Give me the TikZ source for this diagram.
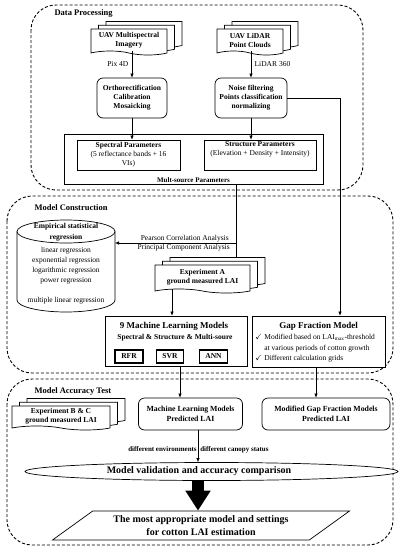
\documentclass[tikz,border=0pt]{standalone}
\usepackage{amsmath}
\usepackage{amssymb}
\usepackage{fontspec}
\setmainfont{Liberation Serif}
\usepackage{tikz}
\usetikzlibrary{arrows.meta}
\usetikzlibrary{shapes.symbols}
\usetikzlibrary{shapes.geometric}
\usetikzlibrary{shadows}

\tikzset{
  box/.style={draw, fill=white, line width=0.7pt, align=center, inner sep=1pt, font=\fontsize{7.5}{9}\selectfont\bfseries},
  rbox/.style={box, rounded corners=6pt},
  stack/.style={box, tape, tape bend top=none, tape bend bottom=out and in, tape bend height=4pt,
    copy shadow={shadow xshift=15pt, shadow yshift=7.5pt, line width=0.7pt},
    copy shadow={shadow xshift=7.5pt, shadow yshift=3.75pt, line width=0.7pt}},
  group/.style={draw, line width=0.9pt, rounded corners=25pt, dash pattern=on 3pt off 2pt},
  title/.style={anchor=west, font=\fontsize{8.5}{10}\selectfont\bfseries},
  lbl/.style={font=\fontsize{7.5}{9}\selectfont},
  arr/.style={-{Latex[length=4pt,width=3.5pt]}, line width=0.6pt}
}

\begin{document}
\begin{tikzpicture}[x=1pt,y=-1pt]
\useasboundingbox (0,0) rectangle (401,550);

% Groups
\draw[group] (31,5) rectangle (363,190);
\draw[group] (7,196) rectangle (393,373);
\draw[group] (7,379) rectangle (393,545);
\node[title] at (51,13) {Data Processing};
\node[title] at (31,208) {Model Construction};
\node[title] at (31,391) {Model Accuracy Test};

% column helpers
\coordinate (c1) at (172,0);
\coordinate (c2) at (180,0);
\coordinate (c3) at (316,0);
\coordinate (c4) at (198,0);
\coordinate (c5) at (340,0);
\coordinate (c6) at (236,0);

% Data processing
\node[stack, minimum width=76, minimum height=26] (ms) at (129,40) {UAV Multispectral\\Imagery};
\node[stack, minimum width=66, minimum height=26] (lidar) at (250,40) {UAV LiDAR\\Point Clouds};
\node[rbox, minimum width=70, minimum height=40] (ortho) at (132,98) {Orthorectification\\Calibration\\Mosaicking};
\node[rbox, minimum width=72, minimum height=40] (noise) at (251,98) {Noise filtering\\Points classification\\normalizing};

\node[box, minimum width=259, minimum height=50] (mult) at (193.5,159) {};
\node[box, minimum width=103, minimum height=30] (spec) at (128.5,155) {};
\node[box, minimum width=112, minimum height=30] (struct) at (260,155) {};
\node[lbl, align=center, anchor=north, inner sep=2pt] (spectxt) at (spec.north) {\textbf{Spectral Parameters}\\(5 reflectance bands + 16\\VIs)};
\node[lbl, align=center, anchor=north, inner sep=2pt] (structtxt) at (struct.north) {\textbf{Structure Parameters}\\(Elevation + Density + Intensity)};
\node[font=\fontsize{7}{8}\selectfont\bfseries, anchor=south, inner sep=2pt] (multtxt) at (mult.south) {Mult-source Parameters};

% Model construction
%Shape: Cylinder
\draw[fill=white, line width=0.7pt] (17,231.5) -- (17,300) arc[start angle=180, end angle=0, x radius=49, y radius=12] -- (115,231.5);
\draw[line width=0.7pt] (66,231.5) ellipse[x radius=49, y radius=11.5];
\coordinate (cyl) at (115,243);
\node[lbl, font=\fontsize{7.5}{11}\selectfont\bfseries, align=center] (emp) at (66,232) {Empirical statistical\\regression};
\node[lbl, font=\fontsize{7.5}{10}\selectfont, align=center, anchor=north, inner sep=0pt] (regs) at (66,247) {linear regression\\exponential regression\\logarithmic regression\\power regression\\[10.5pt]multiple linear regression};

\node[stack, minimum width=95, minimum height=28] (expA) at (202.5,277) {Experiment A\\ground measured LAI};
\coordinate (expAtop) at ([yshift=7.5pt]expA.north);

\node[box, minimum width=142, minimum height=50] (ml) at (176,341) {};
\node[font=\fontsize{9}{10}\selectfont\bfseries] (mltitle) at (174,326) {9 Machine Learning Models};
\node[font=\fontsize{7.5}{9}\selectfont\bfseries] (mlsub) at (175,338) {Spectral \& Structure \& Multi-soure};
\node[box, line width=1.1pt, minimum width=28, minimum height=13] (rfr) at (129,356.5) {RFR};
\node[box, line width=1.1pt, minimum width=27, minimum height=13] (svr) at (170,356.5) {SVR};
\node[box, line width=1.1pt, minimum width=28, minimum height=13] (ann) at (213.5,356.5) {ANN};

\node[box, minimum width=133, minimum height=51] (gap) at (318.5,341.5) {};
\node[font=\fontsize{9}{10}\selectfont\bfseries] (gaptitle) at (318.5,326) {Gap Fraction Model};
\node[lbl, font=\fontsize{7.5}{10.5}\selectfont, anchor=north west, inner sep=0pt] (gaplist) at (255,332) {%
  \begin{tabular}{@{}l@{\hspace{2pt}}l@{}}
  $\checkmark$ & Modified based on LAI\textsubscript{max}-threshold\\
   & at various periods of cotton growth\\
  $\checkmark$ & Different calculation grids
  \end{tabular}};

% Model accuracy test
\node[stack, minimum width=98, minimum height=24] (expBC) at (61,416) {Experiment B \& C\\ground measured LAI};
\node[rbox, minimum width=104, minimum height=32, font=\fontsize{7.8}{10}\selectfont\bfseries] (mlpred) at (190.5,414) {Machine Learning Models\\Predicted LAI};
\node[rbox, minimum width=128, minimum height=32, font=\fontsize{7.8}{10}\selectfont\bfseries] (modgap) at (326,414) {Modified Gap Fraction Models\\Predicted LAI};
\node[draw, ellipse, fill=white, line width=0.7pt, minimum width=373, minimum height=18, inner sep=0pt] (valid) at (211.5,471.5) {};
\node[font=\fontsize{10}{12}\selectfont\bfseries] (validtxt) at (199,471.5) {Model validation and accuracy comparison};
\node[draw, trapezium, trapezium left angle=31, trapezium right angle=149, trapezium stretches=true, line width=0.7pt, minimum width=298, minimum height=29, inner sep=0pt, align=center, font=\fontsize{10}{12.5}\selectfont\bfseries] (best) at (201,525.5) {The most appropriate model and settings\\for cotton LAI estimation};

% Connectors
\draw[arr] (ms.south -| ortho.north) -- node[lbl, left] {Pix 4D} (ortho.north);
\draw[arr] (lidar.south -| noise.north) -- node[lbl, right] {LiDAR 360} (noise.north);
\draw[arr] (ortho.south) -- (spec.north -| ortho.south);
\draw[arr] (noise.south) -- (struct.north -| noise.south);
\draw[arr] (noise.east) -| (gap.north -| c5);
\draw[line width=0.6pt] (mult.south -| c6) -- (expAtop -| c6);
\draw[arr] (cyl -| c6) node[lbl, above left, inner sep=1pt, xshift=-6pt] {Pearson Correlation Analysis}
  node[lbl, below left, inner sep=1pt, xshift=-5pt] {Principal Component Analysis} -- (cyl);
\draw[arr] (expA.south -| c1) -- (ml.north -| c1);
\draw[arr] (ml.south -| c2) -- (mlpred.north -| c2);
\draw[arr] (gap.south -| c3) -- (modgap.north -| c3);
\draw[arr] (mlpred.south -| c4) -- node[pos=0.6, left, font=\fontsize{7}{8}\selectfont\bfseries, inner sep=1pt] {different environments}
  node[pos=0.6, right, font=\fontsize{7}{8}\selectfont\bfseries, inner sep=2pt] {different canopy status} (valid.north -| c4);
\draw[line width=12pt, -{Triangle[length=20pt 0 0, width=24pt 0 0]}] (valid.south -| c4) -- (best.north -| c4);

\end{tikzpicture}
\end{document}
